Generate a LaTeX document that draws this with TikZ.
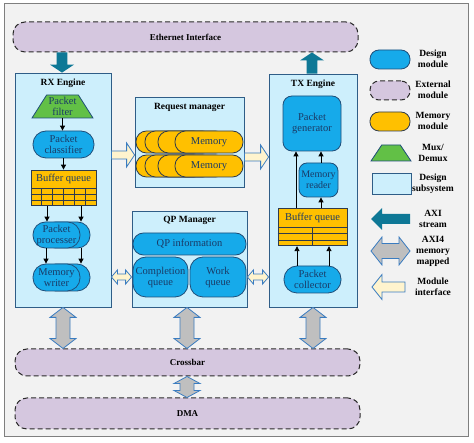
\documentclass[tikz,border=0pt]{standalone}
\usepackage{fontspec}
\setmainfont{Liberation Serif}
\usetikzlibrary{shapes.geometric,calc,arrows.meta}
\definecolor{framefill}{HTML}{F2F2F2}
\definecolor{frameline}{HTML}{7F7F7F}
\definecolor{dmod}{HTML}{16AAEA}
\definecolor{modline}{HTML}{1F4E79}
\definecolor{modtext}{HTML}{1A3A66}
\definecolor{subfill}{HTML}{CDEFFC}
\definecolor{subline}{HTML}{2F5D87}
\definecolor{extfill}{HTML}{D5C7DF}
\definecolor{extline}{HTML}{2B2B2B}
\definecolor{memfill}{HTML}{FFC000}
\definecolor{memline}{HTML}{2F3B4C}
\definecolor{muxfill}{HTML}{62C046}
\definecolor{streamc}{HTML}{0E7896}
\definecolor{axigray}{HTML}{BFBFBF}
\definecolor{axiline}{HTML}{3A7CC0}
\definecolor{modiffill}{HTML}{FFF4CE}
% single block arrow: style, from, to, half shaft, half head, head length
\newcommand\myarrow[6]{%
  \coordinate (maH) at ($(#3)!#6!(#2)$);
  \path[#1] ($(#2)!#4!90:(#3)$) -- ($(maH)!#4!-90:(#2)$) -- ($(maH)!#5!-90:(#2)$)
    -- (#3) -- ($(maH)!#5!90:(#2)$) -- ($(maH)!#4!90:(#2)$) -- ($(#2)!#4!-90:(#3)$) -- cycle;}
% double block arrow
\newcommand\mydarrow[6]{%
  \coordinate (mdA) at ($(#2)!#6!(#3)$);
  \coordinate (mdB) at ($(#3)!#6!(#2)$);
  \path[#1] (#2) -- ($(mdA)!#5!90:(#3)$) -- ($(mdA)!#4!90:(#3)$) -- ($(mdB)!#4!-90:(#2)$)
    -- ($(mdB)!#5!-90:(#2)$) -- (#3) -- ($(mdB)!#5!90:(#2)$) -- ($(mdB)!#4!90:(#2)$)
    -- ($(mdA)!#4!-90:(#3)$) -- ($(mdA)!#5!-90:(#3)$) -- cycle;}
\begin{document}
\begin{tikzpicture}[x=1pt,y=-1pt,
  every node/.style={align=center, inner sep=0pt, font=\fontsize{10.5}{11}\selectfont},
  frame/.style={draw=frameline, fill=framefill, line width=1pt},
  sub/.style={draw=subline, fill=subfill, line width=0.8pt},
  title/.style={font=\bfseries\fontsize{9.5}{10}\selectfont, text=black},
  dm/.style={draw=modline, fill=dmod, line width=0.8pt, text=modtext},
  ext/.style={draw=extline, fill=extfill, dash pattern=on 5pt off 3pt, line width=1pt,
    rounded corners=12pt, font=\bfseries\fontsize{9}{10}\selectfont},
  mem/.style={draw=memline, fill=memfill, line width=0.8pt, text=modtext},
  memp/.style={mem, rounded corners=10.5pt, minimum width=68pt, minimum height=22pt},
  mux/.style={draw=modline, fill=muxfill, line width=0.8pt, text=modtext, trapezium,
    trapezium stretches=true},
  leg/.style={font=\bfseries\fontsize{9.5}{11}\selectfont, text=black},
  arr/.style={-{Triangle[width=5pt,length=5pt]}, line width=0.9pt, draw=black},
  stream/.style={fill=streamc},
  axi/.style={fill=axigray, draw=axiline, line width=0.8pt},
  modif/.style={fill=modiffill, draw=axiline, line width=0.8pt}]
\useasboundingbox (0,0) rectangle (474,443);
\node[frame, minimum width=464pt, minimum height=433pt] (frame) at (236,220.5) {};

% helper coordinates
\coordinate (x46) at (46,0);  \coordinate (x47) at (47,0);  \coordinate (x81) at (81,0);
\coordinate (x62) at (62,0);  \coordinate (x63) at (63,0);  \coordinate (x187) at (187,0);
\coordinate (x312) at (312,0); \coordinate (x313) at (313,0);
\coordinate (x296) at (296,0); \coordinate (x297) at (297,0); \coordinate (x321) at (321,0);
\coordinate (x329) at (329,0);
\coordinate (y155) at (0,155); \coordinate (y157) at (0,157); \coordinate (y277) at (0,277);

% external modules
\node[ext, minimum width=345pt, minimum height=30pt] (eth) at (185.5,37) {Ethernet Interface};
\node[ext, minimum width=345pt, minimum height=27pt] (xbar) at (187.5,362.5) {Crossbar};
\node[ext, minimum width=345pt, minimum height=31pt] (dma) at (187.5,413.5) {DMA};

% RX engine
\node[sub, minimum width=96pt, minimum height=234pt] (rx) at (63,190) {};
\node[title] (rxt) at (63,83) {RX Engine};
\node[mux, minimum width=61pt, minimum height=23pt, trapezium left angle=55,
  trapezium right angle=55] (filt) at (62.5,106.5) {Packet\\filter};
\node[dm, rounded corners=13pt, minimum width=61pt, minimum height=27pt] (cls) at (63.5,144.5) {Packet\\classifier};
\node[mem, minimum width=65pt, minimum height=18pt] (bqr) at (63.5,179) {Buffer queue};
\node[mem, minimum width=65pt, minimum height=17pt, anchor=north] (bqrg) at (bqr.south) {};
\foreach \i in {1,...,5}
  \draw[memline, line width=0.8pt] ($(bqrg.north west)!\i/6!(bqrg.north east)$) -- ($(bqrg.south west)!\i/6!(bqrg.south east)$);
\foreach \i in {1,2}
  \draw[memline, line width=0.8pt] ($(bqrg.north west)!\i/3!(bqrg.south west)$) -- ($(bqrg.north east)!\i/3!(bqrg.south east)$);
\node[dm, rounded corners=12.5pt, minimum width=47pt, minimum height=26pt] (procB) at (66.5,235) {};
\node[dm, rounded corners=12.5pt, minimum width=47pt, minimum height=26pt] (procF) at (56.5,235) {Packet\\processer};
\node[dm, rounded corners=13pt, minimum width=47pt, minimum height=27pt] (mwB) at (66.5,277.5) {};
\node[dm, rounded corners=13pt, minimum width=47pt, minimum height=27pt] (mwF) at (56.5,277.5) {Memory\\writer};
\draw[arr] (filt.south) -- (filt.south |- cls.north);
\draw[arr] (cls.south) -- (bqr.north);
\draw[arr] (bqrg.south -| x47) -- (procF.north -| x47);
\draw[arr] (bqrg.south -| x81) -- (procB.north -| x81);
\draw[arr] (procF.south -| x46) -- (mwF.north -| x46);
\draw[arr] (procB.south -| x81) -- (mwB.north -| x81);

% Request manager
\node[sub, minimum width=109pt, minimum height=90pt] (req) at (189.5,142) {};
\node[title] (reqt) at (189.5,107) {Request manager};
\foreach \cx/\nm in {170/a,179/b,192/c} {
  \node[memp] (m1\nm) at (\cx,142) {};
  \node[memp] (m2\nm) at (\cx,166) {};
}
\node[memp] (m1d) at (209,142) {Memory};
\node[memp] (m2d) at (209,166) {Memory};

% QP manager
\node[sub, minimum width=115pt, minimum height=96pt] (qp) at (189.5,259) {};
\node[title] (qpt) at (189.5,220) {QP Manager};
\node[dm, rounded corners=10.5pt, minimum width=113pt, minimum height=22pt] (qpi) at (189.5,244) {QP information};
\node[dm, rounded corners=13pt, minimum width=55pt, minimum height=40pt] (cq) at (160.5,277) {Completion\\queue};
\node[dm, rounded corners=13pt, minimum width=56pt, minimum height=40pt] (wq) at (218,277) {Work\\queue};

% TX engine
\node[sub, minimum width=88pt, minimum height=233pt] (tx) at (313,190.5) {};
\node[title] (txt) at (313,84) {TX Engine};
\node[dm, rounded corners=9pt, minimum width=58pt, minimum height=55pt] (gen) at (312,123.5) {Packet\\generator};
\node[dm, rounded corners=8pt, minimum width=39pt, minimum height=34pt, font=\fontsize{10}{11}\selectfont] (rdr) at (318.5,180) {Memory\\reader};
\node[mem, minimum width=69pt, minimum height=19pt] (bqt) at (312.5,217.5) {Buffer queue};
\node[mem, minimum width=69pt, minimum height=18pt, anchor=north] (bqtg) at (bqt.south) {};
\draw[memline, line width=0.8pt] (bqtg.north) -- (bqtg.south);
\foreach \i in {1,2}
  \draw[memline, line width=0.8pt] ($(bqtg.north west)!\i/3!(bqtg.south west)$) -- ($(bqtg.north east)!\i/3!(bqtg.south east)$);
\node[dm, rounded corners=13pt, minimum width=57pt, minimum height=27pt] (col) at (312.5,279.5) {Packet\\collector};
\draw[arr] (bqt.north -| x296) -- (gen.south -| x296);
\draw[arr] (bqt.north -| x321) -- (rdr.south -| x321);
\draw[arr] (rdr.north -| x321) -- (gen.south -| x321);
\draw[arr] (col.north -| x297) -- (bqtg.south -| x297);
\draw[arr] (col.north -| x329) -- (bqtg.south -| x329);

% AXI stream arrows
\myarrow{stream}{eth.south -| x62}{rx.north -| x62}{5.3pt}{12pt}{8pt}
\myarrow{stream}{tx.north -| x312}{eth.south -| x312}{5.3pt}{12pt}{8pt}

% module interface arrows
\myarrow{modif}{rx.east |- y155}{req.west |- y155}{4pt}{12pt}{8pt}
\myarrow{modif}{req.east |- y157}{tx.west |- y157}{4pt}{12pt}{8pt}
\mydarrow{modif}{rx.east |- y277}{qp.west |- y277}{3pt}{7pt}{6pt}
\mydarrow{modif}{qp.east |- y277}{tx.west |- y277}{3pt}{7pt}{6pt}

% AXI4 memory mapped arrows
\mydarrow{axi}{rx.south -| x63}{xbar.north -| x63}{7pt}{13pt}{10pt}
\mydarrow{axi}{qp.south -| x187}{xbar.north -| x187}{7pt}{13pt}{10pt}
\mydarrow{axi}{tx.south -| x313}{xbar.north -| x313}{7pt}{13pt}{10pt}
\mydarrow{axi}{xbar.south -| x187}{dma.north -| x187}{7pt}{13pt}{7pt}

% legend
\node[dm, rounded corners=9pt, minimum width=40pt, minimum height=19pt] (lg1) at (390,59.5) {};
\node[ext, rounded corners=9pt, minimum width=40pt, minimum height=19pt] (lg2) at (390,90.5) {};
\node[mem, rounded corners=9pt, minimum width=40pt, minimum height=19pt] (lg3) at (390,121.5) {};
\node[mux, inner sep=2pt, minimum width=40pt, minimum height=16pt, trapezium left angle=60,
  trapezium right angle=60] (lg4) at (391,153) {};
\node[sub, minimum width=39pt, minimum height=21pt] (lg5) at (391.5,183.5) {};
\coordinate (la1) at (410,219); \coordinate (lb1) at (371,219);
\coordinate (la2) at (371,251); \coordinate (lb2) at (410,251);
\coordinate (la3) at (405,287); \coordinate (lb3) at (372,287);
\myarrow{stream}{la1}{lb1}{5pt}{11pt}{11pt}
\mydarrow{axi}{la2}{lb2}{7.5pt}{14pt}{11pt}
\myarrow{modif}{la3}{lb3}{5pt}{12.5pt}{10pt}
\node[leg] (lt1) at (433,59) {Design\\module};
\node[leg] (lt2) at (433,90) {External\\module};
\node[leg] (lt3) at (433,121) {Memory\\module};
\node[leg] (lt4) at (433,153) {Mux/\\Demux};
\node[leg] (lt5) at (433,184) {Design\\subsystem};
\node[leg] (lt6) at (433,219) {AXI\\stream};
\node[leg] (lt7) at (433,251) {AXI4\\memory\\mapped};
\node[leg] (lt8) at (433,287) {Module\\interface};
\end{tikzpicture}
\end{document}
